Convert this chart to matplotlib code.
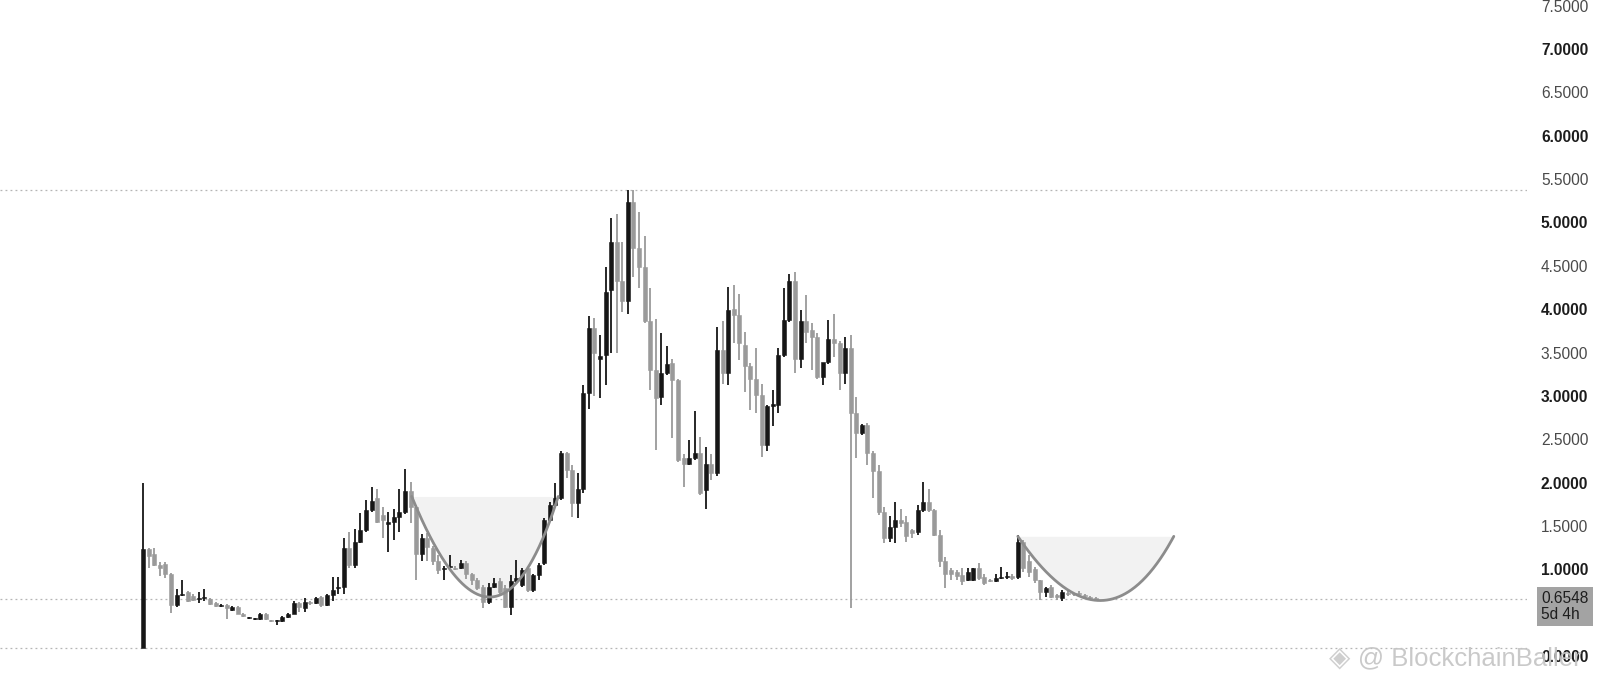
import numpy as np
import matplotlib
matplotlib.use("Agg")
from matplotlib import pyplot as plt

# weekly candles (open / high / low / close)
opens = [0.09, 1.23, 1.18, 1.05, 1.06, 0.95, 0.59, 0.70, 0.74, 0.69,
         0.66, 0.67, 0.66, 0.61, 0.58, 0.59, 0.53, 0.57, 0.49, 0.44,
         0.43, 0.43, 0.49, 0.41, 0.40, 0.40, 0.45, 0.49, 0.61, 0.55,
         0.62, 0.61, 0.68, 0.59, 0.70, 0.78, 0.79, 1.24, 1.05, 1.32,
         1.45, 1.68, 1.82,
         1.63, 1.52, 1.55, 1.60, 1.66, 1.90, 1.72, 1.18, 1.36, 1.25,
         1.09, 1.00, 1.03, 1.01, 1.01, 1.07, 0.95, 0.88, 0.80, 0.62,
         0.80, 0.86, 0.78, 0.57, 0.86, 0.82, 1.01, 0.76, 0.93, 1.07,
         1.57, 1.74, 1.82, 2.34, 2.15, 1.76, 1.93, 3.03, 3.78, 3.42,
         3.47, 4.22, 4.78, 4.32, 4.09,
         5.24, 4.70, 4.49, 3.86, 3.30, 2.99, 3.26, 3.38, 3.18, 2.28,
         2.22, 2.28, 2.34, 1.91, 2.22, 2.11, 3.53, 3.26, 4.00, 3.93,
         3.59, 3.34, 3.20, 3.01, 2.43, 2.88, 2.90, 3.47, 3.87, 4.32,
         3.43, 3.86, 3.76, 3.68, 3.22, 3.39, 3.66, 3.61, 3.26, 3.55,
         2.80, 2.57, 2.66,
         2.34, 2.13, 1.66, 1.36, 1.49, 1.57, 1.55, 1.45, 1.43, 1.68,
         1.78, 1.68, 1.40, 1.09, 0.99, 0.97, 0.93, 0.88, 0.88, 1.01,
         0.91, 0.87, 0.86, 0.90, 0.91, 0.92, 0.91, 1.32, 1.10, 1.00,
         0.88, 0.74, 0.80, 0.70, 0.67, 0.73, 0.72, 0.72, 0.70, 0.68,
         0.67]
highs = [1.99, 1.24, 1.24, 1.08, 1.08, 0.96, 0.77, 0.88, 0.75, 0.71,
         0.74, 0.77, 0.67, 0.62, 0.60, 0.60, 0.58, 0.58, 0.50, 0.45,
         0.44, 0.50, 0.50, 0.42, 0.42, 0.46, 0.50, 0.64, 0.62, 0.67,
         0.64, 0.68, 0.69, 0.71, 0.91, 0.91, 1.36, 1.43, 1.47, 1.65,
         1.80, 1.95, 1.93,
         1.72, 1.66, 1.70, 1.93, 2.16, 2.01, 1.74, 1.41, 1.42, 1.27,
         1.16, 1.04, 1.17, 1.04, 1.11, 1.09, 0.96, 0.90, 0.82, 0.84,
         0.90, 0.90, 0.82, 0.93, 1.11, 1.01, 1.03, 0.95, 1.07, 1.59,
         1.78, 1.99, 2.36, 2.35, 2.20, 2.11, 3.12, 3.92, 3.90, 3.70,
         4.49, 5.05, 5.10, 4.78, 5.37,
         5.37, 5.12, 4.84, 4.24, 3.89, 3.72, 3.58, 3.43, 3.20, 2.33,
         2.49, 2.82, 2.53, 2.41, 2.33, 3.80, 3.86, 4.26, 4.28, 4.18,
         3.74, 3.38, 3.55, 3.14, 2.90, 3.07, 3.55, 4.24, 4.41, 4.43,
         3.99, 4.16, 3.84, 3.72, 3.27, 3.87, 3.95, 3.63, 3.68, 3.70,
         2.99, 2.68, 2.69,
         2.36, 2.20, 1.72, 1.61, 1.78, 1.70, 1.61, 1.47, 1.74, 2.01,
         1.93, 1.70, 1.45, 1.14, 1.01, 0.99, 1.01, 1.01, 1.01, 1.07,
         0.95, 0.89, 0.95, 1.03, 0.97, 0.95, 1.39, 1.34, 1.16, 1.03,
         0.88, 0.79, 0.82, 0.72, 0.76, 0.76, 0.73, 0.75, 0.71, 0.69,
         0.68]
lows = [0.09, 1.01, 1.04, 0.92, 0.90, 0.50, 0.57, 0.69, 0.62, 0.63,
        0.61, 0.64, 0.59, 0.57, 0.57, 0.43, 0.52, 0.48, 0.45, 0.43,
        0.42, 0.42, 0.42, 0.39, 0.36, 0.39, 0.44, 0.48, 0.51, 0.51,
        0.59, 0.60, 0.57, 0.58, 0.64, 0.72, 0.72, 1.02, 1.01, 1.30,
        1.43, 1.66, 1.53,
        1.36, 1.20, 1.34, 1.43, 1.64, 1.53, 0.88, 1.10, 1.10, 1.05,
        0.95, 0.88, 1.01, 0.99, 1.00, 0.89, 0.82, 0.76, 0.55, 0.60,
        0.78, 0.70, 0.55, 0.47, 0.84, 0.80, 0.74, 0.74, 0.88, 1.05,
        1.55, 1.72, 1.80, 2.05, 1.60, 1.59, 1.88, 2.85, 3.00, 2.98,
        3.13, 3.49, 3.50, 3.97, 3.94,
        4.37, 4.24, 3.84, 3.07, 2.38, 2.90, 3.24, 2.51, 2.24, 1.95,
        2.20, 2.26, 1.86, 1.70, 2.03, 2.08, 3.14, 3.13, 3.61, 3.41,
        3.05, 2.84, 2.80, 2.30, 2.37, 2.65, 2.80, 3.45, 3.85, 3.26,
        3.32, 3.61, 3.30, 3.20, 3.12, 3.37, 3.45, 3.07, 3.14, 0.55,
        2.28, 2.55, 2.20,
        1.82, 1.63, 1.30, 1.32, 1.30, 1.49, 1.32, 1.36, 1.40, 1.66,
        1.66, 1.38, 1.03, 0.78, 0.88, 0.88, 0.82, 0.86, 0.86, 0.88,
        0.82, 0.85, 0.85, 0.89, 0.89, 0.88, 0.89, 0.97, 0.91, 0.84,
        0.65, 0.68, 0.67, 0.65, 0.64, 0.69, 0.69, 0.70, 0.68, 0.66,
        0.65]
closes = [1.23, 1.15, 1.05, 1.02, 0.95, 0.59, 0.70, 0.72, 0.63, 0.65,
          0.67, 0.68, 0.60, 0.58, 0.585, 0.55, 0.57, 0.49, 0.46, 0.44,
          0.43, 0.49, 0.43, 0.40, 0.41, 0.45, 0.49, 0.61, 0.56, 0.62,
          0.61, 0.67, 0.59, 0.70, 0.76, 0.79, 1.24, 1.05, 1.32, 1.45,
          1.68, 1.79, 1.55,
          1.57, 1.55, 1.60, 1.66, 1.90, 1.72, 1.18, 1.36, 1.26, 1.09,
          0.99, 1.02, 1.03, 1.00, 1.07, 0.95, 0.88, 0.78, 0.62, 0.80,
          0.84, 0.74, 0.57, 0.86, 0.90, 0.99, 0.76, 0.93, 1.05, 1.57,
          1.74, 1.82, 2.34, 2.15, 1.76, 1.93, 3.03, 3.78, 3.49, 3.46,
          4.20, 4.78, 4.32, 4.09, 5.24,
          4.70, 4.49, 3.86, 3.30, 2.97, 3.26, 3.37, 3.18, 2.26, 2.22,
          2.28, 2.34, 1.88, 2.22, 2.11, 3.53, 3.26, 3.99, 3.93, 3.61,
          3.34, 3.20, 3.01, 2.43, 2.88, 2.91, 3.47, 3.87, 4.32, 3.43,
          3.86, 3.74, 3.68, 3.22, 3.39, 3.66, 3.61, 3.26, 3.55, 2.80,
          2.57, 2.66, 2.34,
          2.13, 1.66, 1.36, 1.49, 1.57, 1.53, 1.38, 1.42, 1.68, 1.78,
          1.68, 1.40, 1.09, 0.95, 0.95, 0.92, 0.86, 0.97, 1.01, 0.90,
          0.84, 0.86, 0.90, 0.91, 0.92, 0.90, 1.32, 1.01, 0.97, 0.88,
          0.74, 0.78, 0.68, 0.68, 0.74, 0.71, 0.715, 0.71, 0.69, 0.67,
          0.6548]

# price levels marked with dotted lines
ath_level = 5.37
low_level = 0.09
last_price = 0.6548
countdown = "5d 4h"

# cup patterns: start, bottom, end (candle index, price)
cup1 = [(48.2, 1.84), (62.2, 0.68), (74.5, 1.84)]
cup2 = [(157.0, 1.38), (171.8, 0.64), (185.0, 1.38)]

# price scale labels (0.5 sits under the price tag, so not shown)
yticks = [0.0, 1.0, 1.5, 2.0, 2.5, 3.0, 3.5, 4.0, 4.5, 5.0, 5.5,
          6.0, 6.5, 7.0, 7.5]

up_col = "#161616"
down_col = "#9a9a9a"

plt.rcParams['font.family'] = ['Liberation Sans', 'DejaVu Sans']

fig = plt.figure(figsize=(16, 6.84), dpi=100)
ax = fig.add_axes([0, 0, 1527 / 1600, 1])

# candles
o = np.array(opens)
h = np.array(highs)
l = np.array(lows)
c = np.array(closes)
x = np.arange(len(o))
cols = np.where(c >= o, up_col, down_col)
ax.vlines(x, l, h, colors=cols, linewidth=1.3, zorder=2)
body_lo = np.minimum(o, c)
body_h = np.maximum(np.abs(c - o), 0.012)
ax.bar(x, body_h, bottom=body_lo, width=0.72, color=cols, edgecolor=cols,
       linewidth=0.4, zorder=2)


# quadratic curve through start / bottom / end of the cup
def draw_cup(ax, pts):
    (x0, y0), (xm, ym), (x2, y2) = pts
    x1 = (xm - 0.25 * x0 - 0.25 * x2) / 0.5
    y1 = (ym - 0.25 * y0 - 0.25 * y2) / 0.5
    t = np.linspace(0, 1, 200)
    bx = (1 - t) ** 2 * x0 + 2 * (1 - t) * t * x1 + t ** 2 * x2
    by = (1 - t) ** 2 * y0 + 2 * (1 - t) * t * y1 + t ** 2 * y2
    top = max(y0, y2)
    ax.fill_between(bx, by, top, color="#f2f2f2", linewidth=0, zorder=1)
    ax.plot(bx, by, color="#8c8c8c", linewidth=2, zorder=3,
            solid_capstyle="round")


draw_cup(ax, cup1)
draw_cup(ax, cup2)

# dotted levels
for lv in [ath_level, last_price, low_level]:
    ax.axhline(lv, color="#b5b5b5", linestyle=(0, (1.5, 2.5)), linewidth=0.9,
               zorder=0)

ax.set_xlim(-25.7, 248.4)
ax.set_ylim(-0.323, 7.566)
for s in ax.spines.values():
    s.set_visible(False)
ax.set_xticks([])
ax.yaxis.tick_right()
ax.set_yticks(yticks)
ax.set_yticklabels(["%.4f" % v for v in yticks])
ax.tick_params(axis="y", length=0, pad=10, labelsize=11.2)
for v, lab in zip(yticks, ax.get_yticklabels()):
    if v == int(v):
        lab.set_fontweight("bold")
        lab.set_color("#1c1c1c")
    else:
        lab.set_color("#4a4a4a")

# last price tag
ax.annotate("%.4f\n%s" % (last_price, countdown), xy=(1.0, last_price),
            xycoords=("axes fraction", "data"), xytext=(14, -7),
            textcoords="offset pixels", va="center", ha="left",
            fontsize=11.2, color="#1e1e1e", linespacing=1.05,
            annotation_clip=False,
            bbox=dict(boxstyle="square,pad=0.28", fc="#a3a3a3", ec="none"))

# watermark
fig.text(0.8375, 0.038, "\u25c8", fontsize=20, color="#cfcfcf", ha="center",
         va="center", family=["DejaVu Sans"])
fig.text(0.849, 0.038, "@ BlockchainBaller", fontsize=18.5, color="#c4c4c4",
         alpha=0.9, ha="left", va="center")

plt.savefig("out.png", dpi=100, facecolor="white")
